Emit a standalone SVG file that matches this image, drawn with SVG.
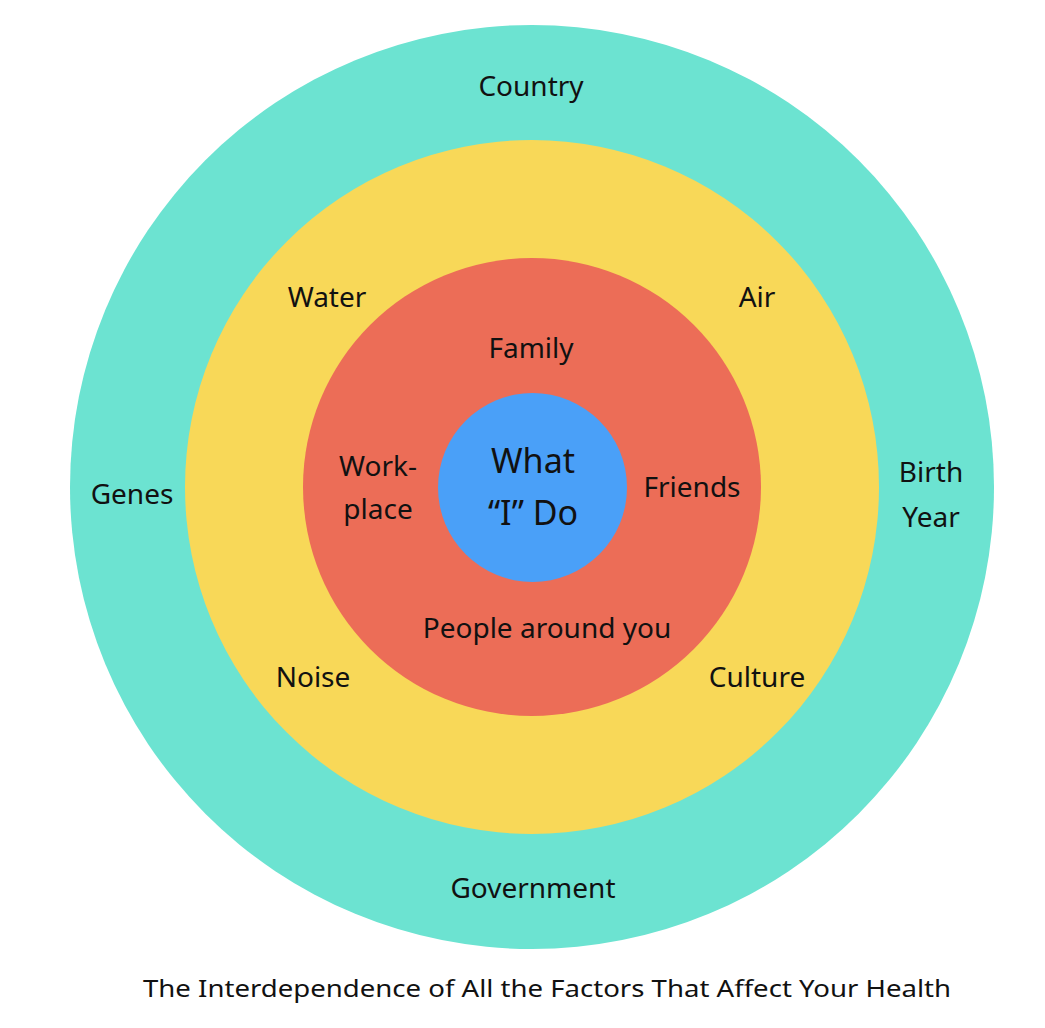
<svg xmlns="http://www.w3.org/2000/svg" width="1045" height="1028" viewBox="0 0 1045 1028">
<style>
text{font-family:"Noto Sans","DejaVu Sans",sans-serif;fill:#111;text-anchor:middle;dominant-baseline:central}
.l{font-size:28px}
.c{font-size:34px}
.cap{font-size:24px}
</style>
<rect width="1045" height="1028" fill="#fff"/>
<g id="ring-outer"><circle cx="532" cy="487" r="462" fill="#6ce3d1"/>
<text class="l" x="531" y="85">Country</text>
<text class="l" x="132" y="493">Genes</text>
<text class="l" x="931" y="471">Birth</text>
<text class="l" x="931" y="516">Year</text>
<text class="l" x="533" y="887">Government</text>
</g>
<g id="ring-yellow"><circle cx="532" cy="487" r="347" fill="#f8d858"/>
<text class="l" x="327" y="296">Water</text>
<text class="l" x="757" y="296">Air</text>
<text class="l" x="313" y="676">Noise</text>
<text class="l" x="757" y="676">Culture</text>
</g>
<g id="ring-red"><circle cx="532" cy="487" r="229" fill="#ec6d57"/>
<text class="l" x="531" y="347">Family</text>
<text class="l" x="378" y="465">Work-</text>
<text class="l" x="378" y="508">place</text>
<text class="l" x="692" y="486">Friends</text>
<text class="l" x="547" y="627">People around you</text>
</g>
<g id="center"><circle cx="532.5" cy="487.5" r="94.5" fill="#4aa0f8"/>
<text class="c" x="533" y="460">What</text>
<text class="c" x="533" y="512">“I” Do</text>
</g>
<g id="connectors"></g>
<text class="cap" x="547" y="987" textLength="808" lengthAdjust="spacingAndGlyphs">The Interdependence of All the Factors That Affect Your Health</text>
</svg>
